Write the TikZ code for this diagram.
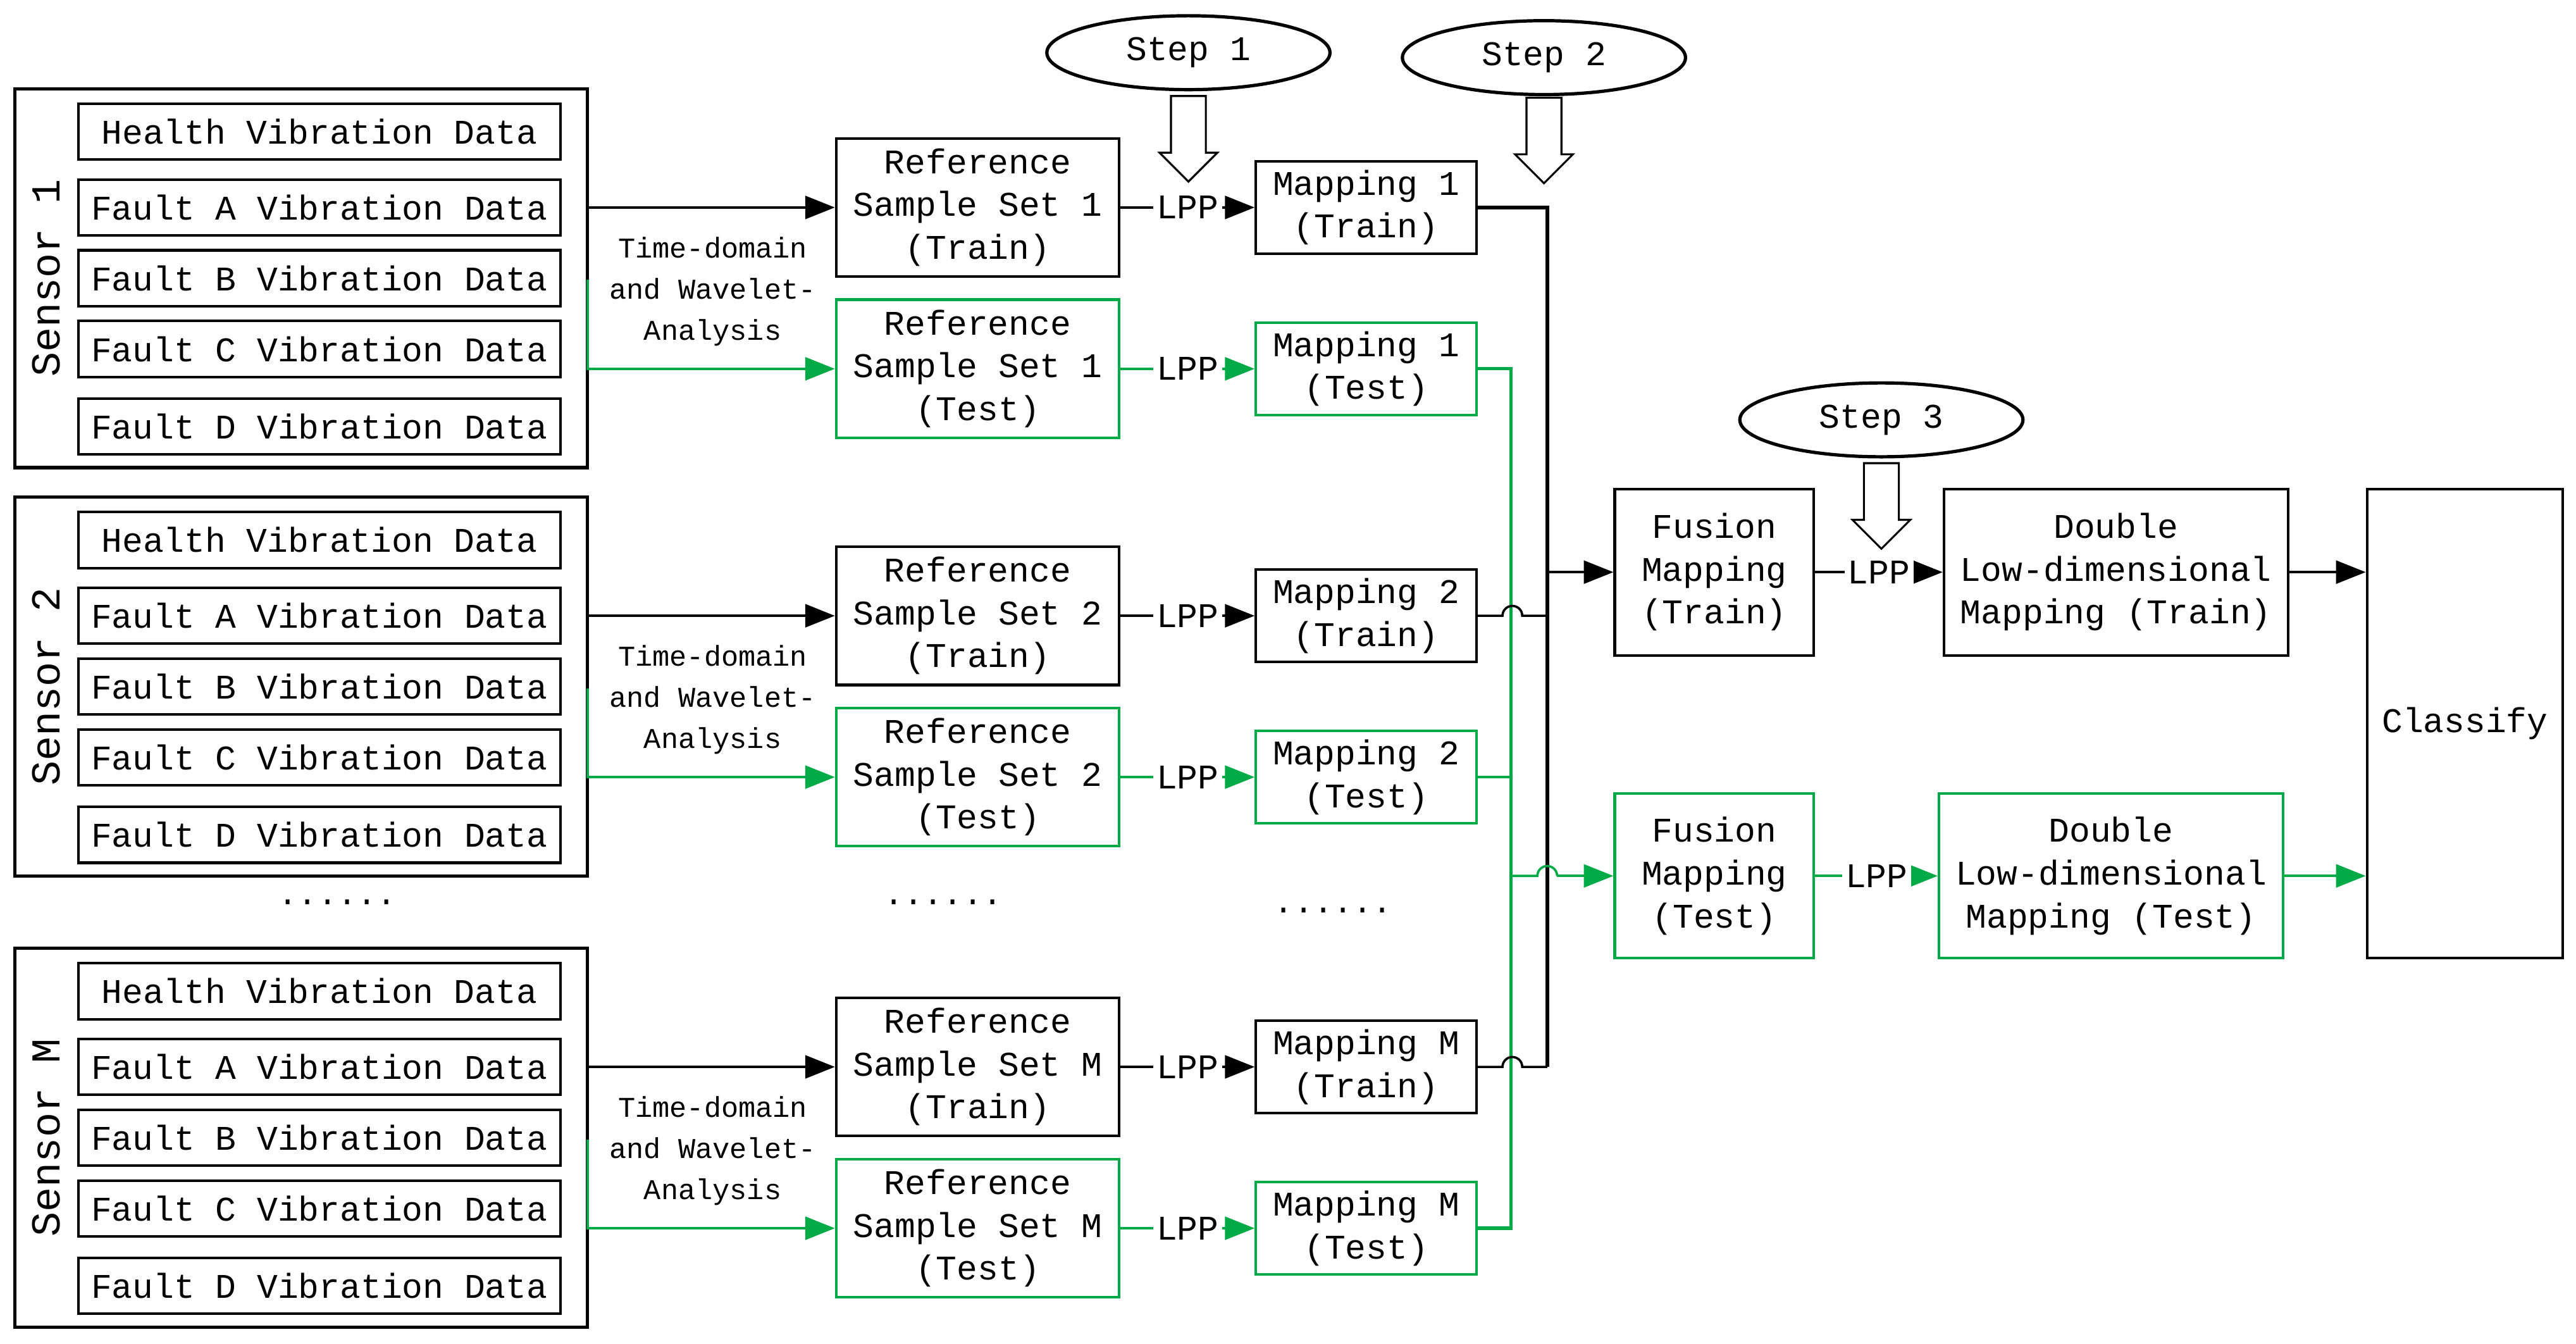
\documentclass[tikz,border=0pt]{standalone}
\usepackage{fontspec}
\setmainfont{Liberation Mono}
\usetikzlibrary{arrows.meta,shapes.geometric,shapes.arrows,positioning}
\definecolor{gline}{RGB}{0,170,70}
\tikzset{
	box/.style={draw,line width=0.8pt,inner sep=0pt,align=center,font=\fontsize{10.5}{13}\selectfont},
	gbox/.style={box,draw=gline},
	arr/.style={line width=0.7pt,-{Triangle[length=9pt,width=7pt]}},
	garr/.style={arr,draw=gline},
	gline/.style={line width=0.7pt,draw=gline},
	lpp/.style={fill=white,inner sep=1pt,font=\fontsize{10.5}{13}\selectfont},
	stepell/.style={draw,ellipse,line width=1pt,minimum width=86pt,minimum height=20pt,font=\fontsize{10.5}{13}\selectfont},
	hollow/.style={draw,single arrow,shape border rotate=270,line width=0.6pt,fill=white,inner sep=5pt,minimum height=26pt,single arrow head extend=3.5pt,single arrow tip angle=90},
}
\begin{document}
\begin{tikzpicture}[x=0.5pt,y=-0.5pt]
	\useasboundingbox (0,0) rectangle (1565,816);
	% sensors
	\foreach \s/\o/\n in {1/0/1,2/248/2,M/522/3}{
		\node[box,line width=1pt,minimum width=174pt,minimum height=115pt] (sen\n) at (183,169+\o) {};
		\node[rotate=90,font=\fontsize{12.5}{14}\selectfont] (senlbl\n) at (28,169+\o) {Sensor \s};
		\foreach \t/\c [count=\k] in {Health/80,Fault A/126,Fault B/169,Fault C/212,Fault D/259}
			\node[box,minimum width=146.5pt,minimum height=17pt] (dat\n-\k) at (194,\c+\o) {\t\ Vibration Data};
		\node[align=center,font=\fontsize{8.7}{12.5}\selectfont] (ana\n) at (433,177+\o) {Time-domain\\and Wavelet-\\Analysis};
		\node[box,minimum width=86pt,minimum height=42pt] (rtr\n) at (594,126+\o) {Reference\\Sample Set \s\\(Train)};
		\node[gbox,minimum width=86pt,minimum height=42pt] (rte\n) at (594,224+\o) {Reference\\Sample Set \s\\(Test)};
		\node[box,minimum width=67pt,minimum height=28pt] (mtr\n) at (830,126+\o) {Mapping \s\\(Train)};
		\node[gbox,minimum width=67pt,minimum height=28pt] (mte\n) at (830,224+\o) {Mapping \s\\(Test)};
		\coordinate (gs\n) at (357,170+\o);
		\draw[arr] (sen\n.east |- rtr\n) -- (rtr\n);
		\draw[garr] (gs\n) |- (rte\n.west);
		\draw[arr] (rtr\n) -- node[lpp]{LPP} (mtr\n);
		\draw[garr] (rte\n) -- node[lpp]{LPP} (mte\n);
	}
	\node (dots1) at (205,548) {......};
	\node (dots2) at (573,548) {......};
	\node (dots3) at (810,553) {......};
	% fusion
	\node[box,minimum width=60.5pt,minimum height=50.5pt] (ftr) at (1041.5,347.5) {Fusion\\Mapping\\(Train)};
	\node[gbox,minimum width=60.5pt,minimum height=50pt] (fte) at (1041.5,532) {Fusion\\Mapping\\(Test)};
	\node[box,minimum width=104.5pt,minimum height=50.5pt] (dtr) at (1285.5,347.5) {Double\\Low-dimensional\\Mapping (Train)};
	\node[gbox,minimum width=104.5pt,minimum height=50pt] (dte) at (1282.5,532) {Double\\Low-dimensional\\Mapping (Test)};
	\node[box,minimum width=59.5pt,minimum height=142.5pt] (cls) at (1497.5,439.5) {Classify};
	\draw[arr] (ftr) -- node[lpp]{LPP} (dtr);
	\draw[garr] (fte) -- node[lpp]{LPP} (dte);
	\draw[arr] (dtr) -- (dtr -| cls.west);
	\draw[garr] (dte) -- (dte -| cls.west);
	% buses
	\coordinate (bk1) at (940,126);
	\coordinate (bk2) at (940,648);
	\coordinate (gb1) at (918,224);
	\coordinate (gb2) at (918,746);
	\draw[gline,line width=1pt] (mte1.east) -- (gb1) -- (gb2) -- (mte3.east);
	\draw[gline] (mte2.east) -- (gb1 |- mte2);
	\draw[line width=0.7pt] (mtr2.east) -- ++(15,0) arc[start angle=180,end angle=0,radius=3pt] -- (bk1 |- mtr2);
	\draw[line width=0.7pt] (mtr3.east) -- ++(15,0) arc[start angle=180,end angle=0,radius=3pt] -- (bk2 |- mtr3);
	\draw[line width=1.2pt] (mtr1.east) -- (bk1) -- (bk2);
	\draw[arr] (bk1 |- ftr) -- (ftr);
	\draw[gline] (gb1 |- fte) -- ++(16,0) arc[start angle=180,end angle=0,radius=3pt];
	\draw[garr] (bk1 |- fte) ++(6,0) -- (fte);
	% steps
	\node[stepell] (step1) at (722,32) {Step 1};
	\node[stepell] (step2) at (938,35) {Step 2};
	\node[stepell] (step3) at (1143,255) {Step 3};
	\node[hollow] (hol1) at (722,79) {};
	\node[hollow] (hol2) at (938,80) {};
	\node[hollow] (hol3) at (1143,302) {};
\end{tikzpicture}
\end{document}
